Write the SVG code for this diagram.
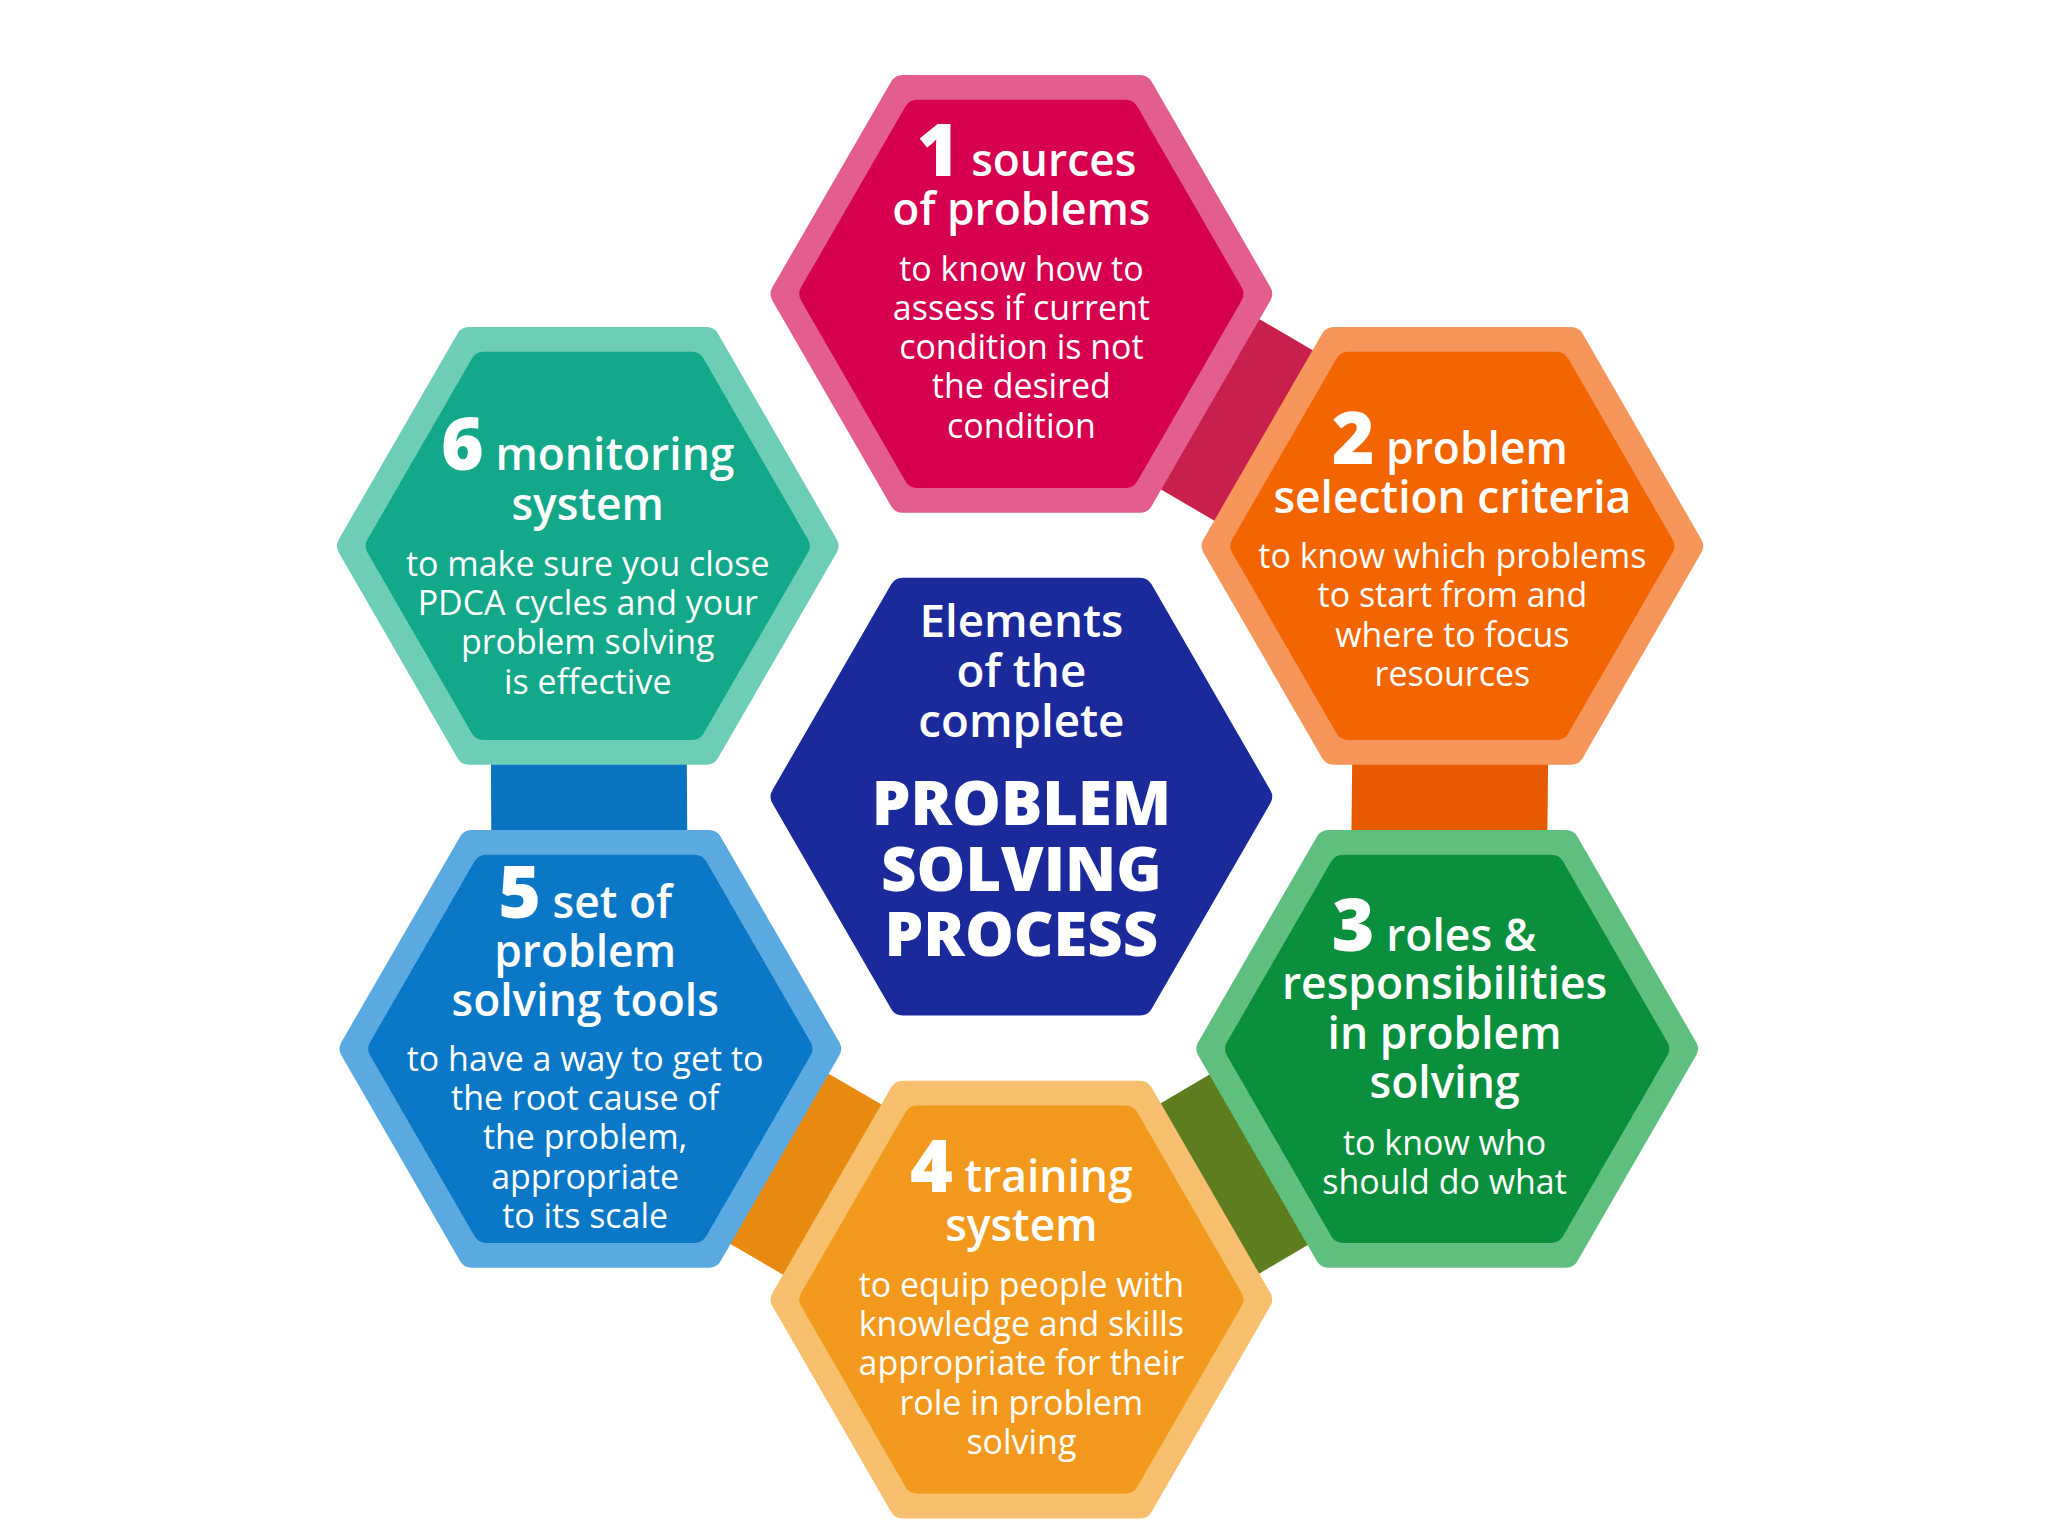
<svg xmlns="http://www.w3.org/2000/svg" width="2048" height="1536" viewBox="0 0 2048 1536">
<style>
text{font-family:"Open Sans","Noto Sans","DejaVu Sans",sans-serif;fill:#fff;text-anchor:middle}
.h{font-size:34px;font-weight:600}
.n{font-size:56px;font-weight:800}
.b{font-size:26px}
.ct{font-size:35px;font-weight:600}
.cb{font-size:47px;font-weight:800}
.o{stroke-width:20;stroke-linejoin:round}
</style>
<defs>
<polygon id="ho" points="182,0 91,157.6 -91,157.6 -182,0 -91,-157.6 91,-157.6"/>
<polygon id="hi" points="160,0 80,138.6 -80,138.6 -160,0 -80,-138.6 80,-138.6"/>
</defs>
<rect width="2048" height="1536" fill="#fff"/>
<g transform="scale(1.3061)">
<g id="connectors">
<polygon points="744,290 1074,483 1150,353 820,160" fill="#c81f4c"/>
<polygon points="1037,418 1033,803 1183,803 1187,418" fill="#e85a00"/>
<polygon points="1070,738 744,930 820,1060 1146,868" fill="#5e7d1e"/>
<polygon points="820,930 490,738 414,868 744,1060" fill="#e88a10"/>
<polygon points="377,803 375,418 525,418 527,803" fill="#0b74c0"/>
</g>
<g id="n1" transform="translate(782,225)"><use href="#ho" class="o" fill="#e35d8f" stroke="#e35d8f"/><use href="#hi" class="o" fill="#d6004f" stroke="#d6004f"/></g>
<g id="n2" transform="translate(1112,418)"><use href="#ho" class="o" fill="#f6965a" stroke="#f6965a"/><use href="#hi" class="o" fill="#f26500" stroke="#f26500"/></g>
<g id="n3" transform="translate(1108,803)"><use href="#ho" class="o" fill="#5fbf7f" stroke="#5fbf7f"/><use href="#hi" class="o" fill="#0a8f3c" stroke="#0a8f3c"/></g>
<g id="n4" transform="translate(782,995)"><use href="#ho" class="o" fill="#f7bf6e" stroke="#f7bf6e"/><use href="#hi" class="o" fill="#f39a1e" stroke="#f39a1e"/></g>
<g id="n5" transform="translate(452,803)"><use href="#ho" class="o" fill="#5aa9e0" stroke="#5aa9e0"/><use href="#hi" class="o" fill="#0a78c6" stroke="#0a78c6"/></g>
<g id="n6" transform="translate(450,418)"><use href="#ho" class="o" fill="#6dcdb6" stroke="#6dcdb6"/><use href="#hi" class="o" fill="#13a88a" stroke="#13a88a"/></g>
<g id="center" transform="translate(782,610)"><use href="#ho" class="o" fill="#1a2a9b" stroke="#1a2a9b"/></g>

<text class="h" x="786" y="135"><tspan class="n">1</tspan> sources</text>
<text class="h" x="782" y="172">of problems</text>
<text class="b" x="782" y="215">to know how to</text>
<text class="b" x="782" y="245">assess if current</text>
<text class="b" x="782" y="275">condition is not</text>
<text class="b" x="782" y="305">the desired</text>
<text class="b" x="782" y="335">condition</text>

<text class="h" x="1110" y="355"><tspan class="n">2</tspan> problem</text>
<text class="h" x="1112" y="393">selection criteria</text>
<text class="b" x="1112" y="435">to know which problems</text>
<text class="b" x="1112" y="465">to start from and</text>
<text class="b" x="1112" y="495">where to focus</text>
<text class="b" x="1112" y="525">resources</text>

<text class="h" x="1098" y="728"><tspan class="n">3</tspan> roles &amp;</text>
<text class="h" x="1106" y="765">responsibilities</text>
<text class="h" x="1106" y="803">in problem</text>
<text class="h" x="1106" y="841">solving</text>
<text class="b" x="1106" y="884">to know who</text>
<text class="b" x="1106" y="914">should do what</text>

<text class="h" x="782" y="913"><tspan class="n">4</tspan> training</text>
<text class="h" x="782" y="950">system</text>
<text class="b" x="782" y="993">to equip people with</text>
<text class="b" x="782" y="1023">knowledge and skills</text>
<text class="b" x="782" y="1053">appropriate for their</text>
<text class="b" x="782" y="1083">role in problem</text>
<text class="b" x="782" y="1113">solving</text>

<text class="h" x="448" y="703"><tspan class="n">5</tspan> set of</text>
<text class="h" x="448" y="740">problem</text>
<text class="h" x="448" y="778">solving tools</text>
<text class="b" x="448" y="820">to have a way to get to</text>
<text class="b" x="448" y="850">the root cause of</text>
<text class="b" x="448" y="880">the problem,</text>
<text class="b" x="448" y="910">appropriate</text>
<text class="b" x="448" y="940">to its scale</text>

<text class="h" x="450" y="360"><tspan class="n">6</tspan> monitoring</text>
<text class="h" x="450" y="398">system</text>
<text class="b" x="450" y="441">to make sure you close</text>
<text class="b" x="450" y="471">PDCA cycles and your</text>
<text class="b" x="450" y="501">problem solving</text>
<text class="b" x="450" y="531">is effective</text>

<text class="ct" x="782" y="488">Elements</text>
<text class="ct" x="782" y="526">of the</text>
<text class="ct" x="782" y="564">complete</text>
<text class="cb" x="782" y="632">PROBLEM</text>
<text class="cb" x="782" y="682">SOLVING</text>
<text class="cb" x="782" y="732">PROCESS</text>
</g>
</svg>
